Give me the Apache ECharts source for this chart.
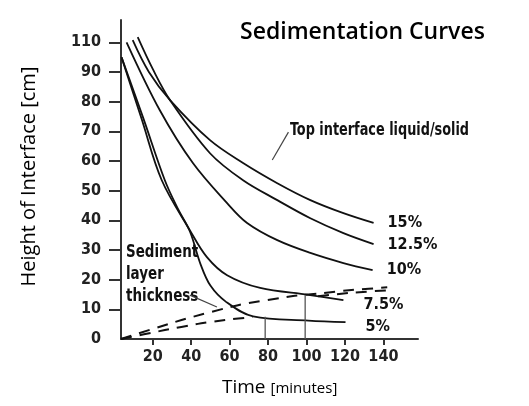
<!DOCTYPE html>
<html lang="en">
<head>
    <meta charset="utf-8"/>
    <title>Sedimentation Curves</title>
    <script src="https://cdn.jsdelivr.net/npm/echarts@6/dist/echarts.min.js"></script>
</head>
<body style="margin:0;background:#fff">
<div id="echarts" style="width:529px;height:406px;"></div>
<script type="text/javascript">
    // tick labels (the source labels the 100 position as "110")
    var xTicks = [20, 40, 60, 80, 100, 120, 140];
    var yTicks = [0, 10, 20, 30, 40, 50, 60, 70, 80, 90, 100];
    var yTickText = ['0', '10', '20', '30', '40', '50', '60', '70', '80', '90', '110'];

    // interface height curves [time, height]
    var curve15 = [[9.6, 100.7], [18, 90], [29, 80.5], [49.8, 67], [67, 59.3], [84.8, 52.5], [102, 46.8], [119.2, 42.4], [134.9, 39.1]];
    var curve125 = [[12.2, 101.7], [20, 91], [29, 80.5], [49.8, 62.6], [67, 53.5], [84.8, 46.8], [102, 40.7], [119.2, 35.7], [134.9, 32]];
    var curve10 = [[6.4, 100], [23.7, 77.1], [40.9, 59.3], [58.7, 45.8], [69.1, 39.1], [84.8, 33.3], [102, 29], [119.2, 25.6], [134.4, 23.2]];
    var curve75 = [[3.8, 94.9], [14.2, 74.2], [24.7, 53.5], [39.3, 36.7], [48.2, 27.6], [58.7, 21.5], [75.9, 17.2], [101, 14.9], [119.2, 13.1]];
    var curve5 = [[3.8, 94.9], [15, 74.6], [26.3, 53.5], [33, 44], [39.3, 36.3], [45, 25], [50, 18], [58, 12.6], [72.2, 7.6], [101, 6.2], [120.3, 5.7]];

    // sediment layer thickness (dashed)
    var sedUpper = [[3.5, 0], [35, 6.4], [64.4, 11.4], [93, 14.5], [108.8, 15.5], [123.4, 16.5], [142, 17.4]];
    var sedLowerA = [[3.5, 0], [26.3, 3], [43.5, 5.1], [57.6, 6.4], [72, 7.4]];
    var sedLowerB = [[106, 14.4], [123.4, 15.6], [142, 16.4]];

    // drop lines and pointer lines
    var drop1 = [[78.5, 0], [78.5, 7.5]];
    var drop2 = [[99.3, 0], [99.3, 14.8]];
    var pointerTop = [[82.2, 60.3], [90.6, 69.7]];
    var pointerSed = [[39.3, 14.8], [53.4, 10.8]];

    var curveNames = ['15%', '12.5%', '10%', '7.5%', '5%'];
    var curveData = [curve15, curve125, curve10, curve75, curve5];
    var labelOffsets = [[0, 0], [0, 1], [0, 0], [6, 5], [6, 5]];

    var lblFont = '"DejaVu Sans Condensed", sans-serif';

    var series = [];
    for (var i = 0; i < curveData.length; i++) {
        series.push({
            name: curveNames[i],
            type: 'line',
            data: curveData[i],
            smooth: 0.35,
            showSymbol: false,
            lineStyle: {color: '#111', width: 1.8},
            endLabel: {
                show: true,
                formatter: curveNames[i],
                distance: 14,
                offset: labelOffsets[i],
                color: '#111',
                fontFamily: lblFont,
                fontWeight: 'bold',
                fontSize: 16
            }
        });
    }
    [sedUpper, sedLowerA, sedLowerB].forEach(function (d) {
        series.push({
            type: 'line', data: d, smooth: 0.2, showSymbol: false,
            lineStyle: {color: '#111', width: 2, type: [11, 8]}
        });
    });
    [drop1, drop2].forEach(function (d) {
        series.push({
            type: 'line', data: d, showSymbol: false,
            lineStyle: {color: '#555', width: 1.3}
        });
    });
    [pointerTop, pointerSed].forEach(function (d) {
        series.push({
            type: 'line', data: d, showSymbol: false,
            lineStyle: {color: '#444', width: 1.2}
        });
    });

    var myChart = echarts.init(document.getElementById('echarts'));
    var option = {
        animation: false,
        title: [{
            text: 'Sedimentation Curves',
            left: 235, top: 16,
            textStyle: {fontFamily: '"Open Sans", sans-serif', fontSize: 23, fontWeight: 600, color: '#000'}
        }, {
            text: '{a|Time} {b|[minutes]}',
            left: 217, top: 373,
            textStyle: {
                rich: {
                    a: {fontFamily: '"Open Sans", sans-serif', fontSize: 19, fontWeight: 'normal', color: '#000'},
                    b: {fontFamily: '"Open Sans", sans-serif', fontSize: 15, fontWeight: 'normal', color: '#000', padding: [3, 0, 0, 0]}
                }
            }
        }],
        grid: {left: 121, right: 111, top: 20, bottom: 67},
        xAxis: {
            type: 'value', min: 3.5, max: 158,
            splitLine: {show: false},
            axisLine: {lineStyle: {color: '#333', width: 2}},
            axisTick: {customValues: xTicks, length: 6, lineStyle: {color: '#333', width: 2}},
            axisLabel: {
                customValues: xTicks, margin: 10,
                color: '#222', fontFamily: lblFont, fontWeight: 'bold', fontSize: 16
            }
        },
        yAxis: {
            type: 'value', min: 0, max: 107.5,
            name: 'Height of Interface [cm]',
            nameLocation: 'middle', nameRotate: 90, nameGap: 82,
            nameTextStyle: {fontFamily: '"Open Sans", sans-serif', fontSize: 20, color: '#000', padding: [0, 0, 0, 6]},
            splitLine: {show: false},
            axisLine: {show: true, lineStyle: {color: '#333', width: 2}},
            axisTick: {show: true, customValues: yTicks.slice(1), length: 12, lineStyle: {color: '#333', width: 2}},
            axisLabel: {
                customValues: yTicks, margin: 20,
                formatter: function (v) { return yTickText[yTicks.indexOf(v)]; },
                color: '#222', fontFamily: lblFont, fontWeight: 'bold', fontSize: 16
            }
        },
        graphic: [{
            type: 'text', x: 290, y: 122, scaleX: 0.84,
            style: {text: 'Top interface liquid/solid', fill: '#111', font: 'bold 17px ' + lblFont}
        }, {
            type: 'text', x: 126, y: 242, scaleX: 0.88,
            style: {text: 'Sediment\nlayer\nthickness', fill: '#111', font: 'bold 17px ' + lblFont, lineHeight: 22}
        }],
        series: series
    };
    myChart.setOption(option);
</script>
</body>
</html>
